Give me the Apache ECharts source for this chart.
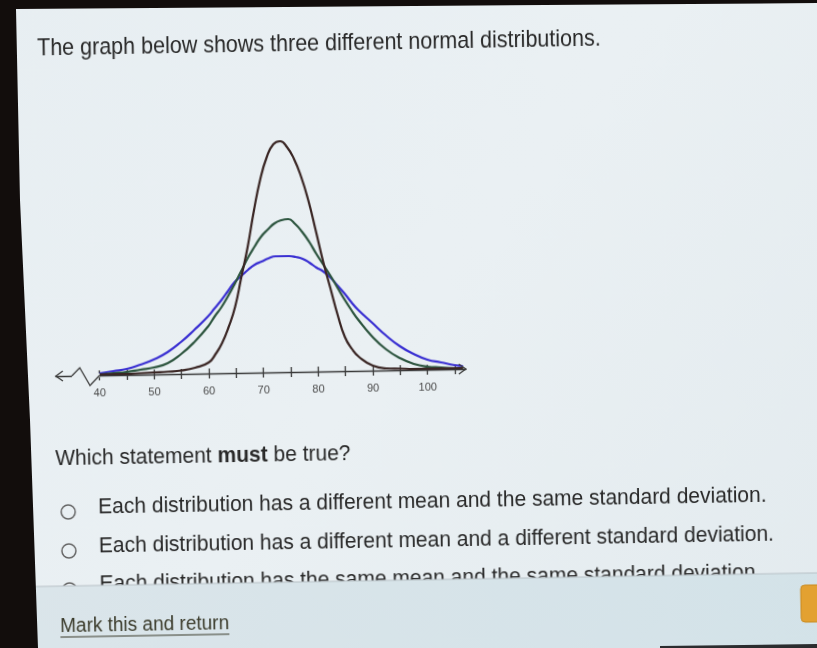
<!DOCTYPE html>
<html>
<head>
<meta charset="utf-8">
<script src="https://cdn.jsdelivr.net/npm/echarts@6/dist/echarts.min.js"></script>
<style>
  html, body { margin: 0; padding: 0; width: 817px; height: 648px; overflow: hidden; background: #d6e3e9; }
  #wrap { position: absolute; left: -40px; top: -40px; width: 897px; height: 728px; transform: rotate(-1deg); transform-origin: 448px 364px; }
  #chart { width: 897px; height: 728px; }
  #bezel { position: absolute; left: 0; top: 0; width: 817px; height: 648px; background: #120d0c;
    clip-path: polygon(0 0, 817px 0, 817px 3px, 16px 9px, 20px 200px, 30px 420px, 38px 648px, 0 648px); }
  #edge { position: absolute; left: 0; top: 0; width: 817px; height: 648px; background: #2a2c2e;
    clip-path: polygon(660px 646px, 817px 644px, 817px 648px, 660px 648px); }
</style>
</head>
<body>
<div id="wrap"><div id="chart"></div></div>
<div id="bezel"></div>
<div id="edge"></div>
<script>
// x positions (score) at which the curves were read
const xValues = [40, 42.5, 45, 47.5, 50, 52.5, 55, 57.5, 60, 61.25, 62.5, 63.75, 65, 66.25, 67.5, 68.75, 70, 71.25, 72.5, 73.75, 75, 76.25, 77.5, 78.75, 80, 81.25, 82.5, 83.75, 85, 86.25, 87.5, 90, 92.5, 95, 97.5, 100, 102.5, 105, 106.5];
// relative curve heights
const narrowCurve = [1, 1, 1, 1.5, 2, 2.5, 3.5, 6, 11, 19, 30, 46, 66, 96, 126, 162, 193, 215, 228, 231, 225, 213, 195, 171, 141, 110, 83, 56, 34, 22, 14, 5, 2, 1.5, 1, 1, 1, 1, 1];
const middleCurve = [1, 2, 3, 5, 7, 11, 20, 32, 47, 57, 66, 77, 89, 102, 115, 126, 136, 143, 149, 152, 153, 148, 140, 130, 118, 107, 96, 84, 72, 61, 51, 34, 21, 12, 6, 3, 2, 1, 1];
const wideCurve = [2, 4, 6, 10, 15, 22, 32, 44, 57, 65, 73, 82, 91, 97, 103, 108, 111, 114, 116, 116, 116, 115, 113, 109, 104, 100, 94, 86, 78, 69, 61, 48, 35, 24, 16, 10, 7, 4, 3];
// axis ticks and labels
const tickValues = [40, 45, 50, 55, 60, 65, 70, 75, 80, 85, 90, 95, 100, 105];
const labelValues = [40, 50, 60, 70, 80, 90, 100];
// texts
const titleText = 'The graph below shows three different normal distributions.';
const questionParts = ['Which statement ', 'must', ' be true?'];
const options = [
  'Each distribution has a different mean and the same standard deviation.',
  'Each distribution has a different mean and a different standard deviation.',
  'Each distribution has the same mean and the same standard deviation.'
];
const linkText = 'Mark this and return';

const OX = 40, OY = 40;
const FONT = '"Liberation Sans", Arial, sans-serif';
const TXT = '#282828';
const chart = echarts.init(document.getElementById('chart'), null, { renderer: 'canvas' });

function pairs(ys) { return xValues.map((x, i) => [x, ys[i]]); }

const optionTexts = [];
options.forEach((t, i) => {
  optionTexts.push({ type: 'circle', shape: { cx: OX + 65, cy: OY + 506 + i * 39, r: 7 }, style: { fill: 'none', stroke: '#666', lineWidth: 1.5 }, z: 10 });
  optionTexts.push({ type: 'text', x: OX + 95, y: OY + 502 + i * 38.5, scaleY: 1.08, style: { text: t, font: '21px ' + FONT, fill: TXT, textVerticalAlign: 'middle' }, z: 10 });
});

chart.setOption({
  backgroundColor: {
    type: 'linear', x: 0, y: 0, x2: 1, y2: 1,
    colorStops: [{ offset: 0, color: '#e7eef2' }, { offset: 0.5, color: '#eaf0f3' }, { offset: 1, color: '#e2eaee' }]
  },
  animation: false,
  grid: { left: OX + 55, right: 352 + 2 * OX - OX, top: OY + 130, bottom: 278 + (728 - 648 - OY) },
  xAxis: [{
    type: 'value', min: 32, max: 107,
    splitLine: { show: false },
    axisLine: { show: true, lineStyle: { color: '#3a3a3a', width: 1.3 } },
    axisTick: { show: true, customValues: tickValues, length: 5, lineStyle: { color: '#3a3a3a', width: 1.3 } },
    axisLabel: { customValues: labelValues, color: '#4a4a4a', fontSize: 11, fontFamily: FONT, margin: 12 }
  }, {
    type: 'value', min: 32, max: 107, position: 'bottom',
    splitLine: { show: false },
    axisLine: { show: false },
    axisTick: { show: true, inside: true, customValues: tickValues, length: 5, lineStyle: { color: '#3a3a3a', width: 1.3 } },
    axisLabel: { show: false }
  }],
  yAxis: { type: 'value', min: 0, max: 240, show: false },
  series: [
    { type: 'line', data: pairs(wideCurve), showSymbol: false, smooth: 0.5, lineStyle: { color: '#3a30d2', width: 2.2 }, z: 3 },
    { type: 'line', data: pairs(middleCurve), showSymbol: false, smooth: 0.5, lineStyle: { color: '#2d553f', width: 2.2 }, z: 4 },
    { type: 'line', data: pairs(narrowCurve), showSymbol: false, smooth: 0.5, lineStyle: { color: '#3a2624', width: 2.2 }, z: 5 }
  ]
});

// decorations derived from the axis position
const p40 = chart.convertToPixel({ xAxisIndex: 0 }, 40);
const pMin = chart.convertToPixel({ xAxisIndex: 0 }, 32);
const pMax = chart.convertToPixel({ xAxisIndex: 0 }, 107);
const ay = chart.convertToPixel({ yAxisIndex: 0 }, 0);

chart.setOption({
  graphic: [
    // axis break and arrows
    { type: 'rect', shape: { x: pMin + 16, y: ay - 2, width: p40 - pMin - 16, height: 4 }, style: { fill: '#e8eef2' }, z: 50 },
    { type: 'polyline', shape: { points: [[pMin + 16, ay], [pMin + 24, ay - 8], [pMin + 34, ay + 10], [p40, ay]] }, style: { stroke: '#3a3a3a', lineWidth: 1.3, fill: 'none' }, z: 51 },
    { type: 'polyline', shape: { points: [[pMin + 7, ay - 5], [pMin, ay], [pMin + 7, ay + 5]] }, style: { stroke: '#3a3a3a', lineWidth: 1.3, fill: 'none' }, z: 51 },
    { type: 'polyline', shape: { points: [[pMax - 7, ay - 5], [pMax, ay], [pMax - 7, ay + 5]] }, style: { stroke: '#3a3a3a', lineWidth: 1.3, fill: 'none' }, z: 51 },
    // texts
    { type: 'text', x: OX + 42, y: OY + 43, scaleY: 1.08, style: { text: titleText, font: '21.5px ' + FONT, fill: TXT, textVerticalAlign: 'middle' }, z: 10 },
    { type: 'text', x: OX + 53, y: OY + 453, scaleY: 1.08, style: {
        text: '{n|' + questionParts[0] + '}{b|' + questionParts[1] + '}{n|' + questionParts[2] + '}',
        textVerticalAlign: 'middle',
        rich: { n: { font: '21px ' + FONT, fill: TXT }, b: { font: 'bold 21px ' + FONT, fill: TXT } }
      }, z: 10 },
    { type: 'group', children: optionTexts },
    // bottom panel hiding the lower half of the third option
    { type: 'rect', shape: { x: 0, y: OY + 580, width: 1000, height: 200 }, style: { fill: {
        type: 'linear', x: 0, y: 0, x2: 1, y2: 0,
        colorStops: [{ offset: 0, color: '#dbe5ea' }, { offset: 1, color: '#d2e2e8' }] } }, z: 20 },
    { type: 'line', shape: { x1: 0, y1: OY + 580, x2: 1000, y2: OY + 580 }, style: { stroke: '#b8c1c6', lineWidth: 1 }, z: 21 },
    { type: 'text', x: OX + 55, y: OY + 620, scaleY: 1.08, style: { text: linkText, font: '19px ' + FONT, fill: '#3a3a2a', textVerticalAlign: 'middle' }, z: 22 },
    { type: 'line', shape: { x1: OX + 55, y1: OY + 631, x2: OX + 224, y2: OY + 631 }, style: { stroke: '#3a3a2a', lineWidth: 1.2 }, z: 22 },
    { type: 'rect', shape: { x: OX + 796, y: OY + 592, width: 60, height: 37, r: 4 }, style: { fill: '#e3a131', stroke: '#c98a20', lineWidth: 1 }, z: 22 }
  ]
});
</script>
</body>
</html>
